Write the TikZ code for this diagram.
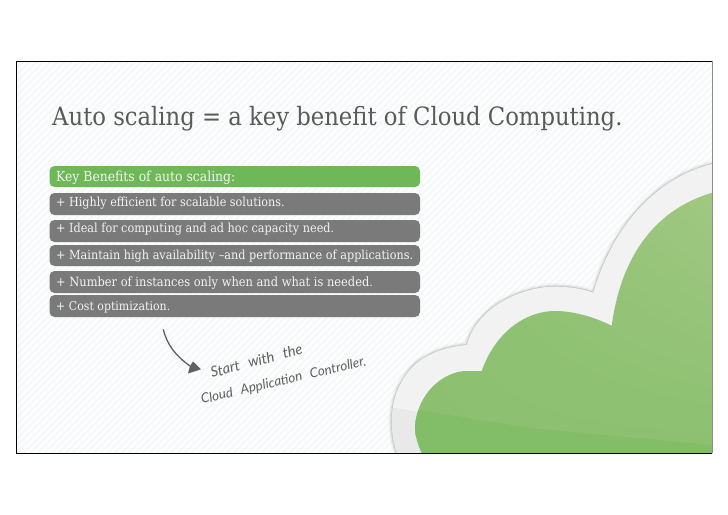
\documentclass[tikz,border=0pt]{standalone}
\usepackage{fontspec}
\setmainfont{DejaVu Serif Condensed}
\newfontfamily\hand{Lato}[WordSpace=2.6]
\usetikzlibrary{shadings}
\definecolor{bgc}{HTML}{F6F7F8}
\definecolor{stripec}{HTML}{FCFDFD}
\definecolor{barg}{HTML}{6FB858}
\definecolor{bargrey}{HTML}{7A7A7A}
\definecolor{bartext}{HTML}{F2F2F2}
\definecolor{titlec}{HTML}{5A5A5A}
\definecolor{handc}{HTML}{606060}
\definecolor{cloudA}{HTML}{A0C882}
\definecolor{cloudB}{HTML}{8CC070}
\tikzset{
 barbox/.style={rounded corners=5pt,line width=0pt},
 bartxt/.style={anchor=base west,inner sep=0pt,text=bartext,font=\fontsize{#1}{14}\selectfont},
 handtxt/.style={anchor=base west,inner sep=0pt,text=handc,font=\hand\itshape\fontsize{#1}{16}\selectfont},
}
\def\outerpath{(722,160) -- (712,164) .. controls (655,178) and (612,228) .. (593.3,292.7)
 .. controls (580,288) and (566,286.5) .. (553,286.7) .. controls (530,287) and (498,298) .. (480,320) .. controls (473,328) and (469,337) .. (466.7,345)
 .. controls (444,347) and (428,354) .. (416.7,363) .. controls (400,378) and (392,398) .. (391.7,420) .. controls (391.7,432) and (393,443) .. (396.7,453) -- (722,453) -- cycle}
\def\innerpath{(712.3,192.7) .. controls (660,208) and (622,250) .. (611.7,325.7)
 .. controls (590,315) and (570,311) .. (555,311) .. controls (525,311) and (495,333) .. (481.7,371)
 -- (466.7,371) .. controls (444,371) and (417,393) .. (415,426.7) .. controls (415,436) and (418,445) .. (421.7,453) -- (712.3,453) -- cycle}
\begin{document}
\begin{tikzpicture}[x=1pt,y=-1pt]
\useasboundingbox (0,0) rectangle (728,514);
\fill[white] (0,0) rectangle (728,514);
\fill[bgc] (16,61) rectangle (712,453);
\begin{scope}
\clip (16,61) rectangle (712,453);
\foreach \k in {-400,-393,...,720}{
  \draw[stripec,line width=2.6pt] (\k,453) -- ++(400,-400);
}
\foreach \w/\o in {7/0.02,5/0.03,3.5/0.04,2/0.06,1/0.08}{
  \draw[black,opacity=\o,line width=\w pt] \outerpath;
}
\fill[white!95!black] \outerpath;
\begin{scope}
 \clip \outerpath;
 \fill[black,opacity=0.035] (385,406) -- (600,445) -- (600,460) -- (385,460) -- cycle;
\end{scope}
\shade[upper right=cloudA,upper left=cloudB,lower left=cloudB,lower right=cloudB] \innerpath;
\begin{scope}
 \clip \innerpath;
 \fill[barg,opacity=0.32] (400,407) -- (530,428) -- (712,445) -- (712,460) -- (400,460) -- cycle;
\end{scope}
\end{scope}
\draw[black,line width=1pt] (712,453) -- (16,453) -- (16,61) -- (712,61);
\draw[black!45,line width=1pt] (712,61) -- (712,453);

\node[anchor=base west,inner sep=0pt,text=titlec,font=\fontsize{25.25}{28}\selectfont] (title) at (52,125) {Auto scaling = a key benefit of Cloud Computing.};

\fill[barbox,barg] (49.5,166) rectangle (420,187);
\fill[barbox,bargrey] (49.5,193) rectangle (420,215);
\fill[barbox,bargrey] (49.5,220) rectangle (420,242);
\fill[barbox,bargrey] (49.5,245) rectangle (420,266);
\fill[barbox,bargrey] (49.5,271) rectangle (420,293);
\fill[barbox,bargrey] (49.5,295) rectangle (420,317);
\node[bartxt=13.8] (t0) at (56,181.5) {Key Benefits of auto scaling:};
\node[bartxt=12.45] (t1) at (56,206) {+ Highly efficient for scalable solutions.};
\node[bartxt=12.5] (t2) at (56,232.5) {+ Ideal for computing and ad hoc capacity need.};
\node[bartxt=12.5] (t3) at (56,259.5) {+ Maintain high availability --and performance of applications.};
\node[bartxt=12.7] (t4) at (56,286) {+ Number of instances only when and what is needed.};
\node[bartxt=12.2] (t5) at (56,310) {+ Cost optimization.};

\node[handtxt=14.6,rotate=15] (h1) at (212,378) {Start with the};
\node[handtxt=13.35,rotate=13.2] (h2) at (202,404) {Cloud Application Controller.};

\coordinate (as) at (163.3,329.3);
\coordinate (ae) at (190,366);
\draw[handc,line width=1.3pt] (as) .. controls (167,345) and (176,356) .. (ae);
\fill[handc] (201,369.3) -- (193,361.5) -- (190,366) -- (188,373.5) -- cycle;
\end{tikzpicture}
\end{document}
